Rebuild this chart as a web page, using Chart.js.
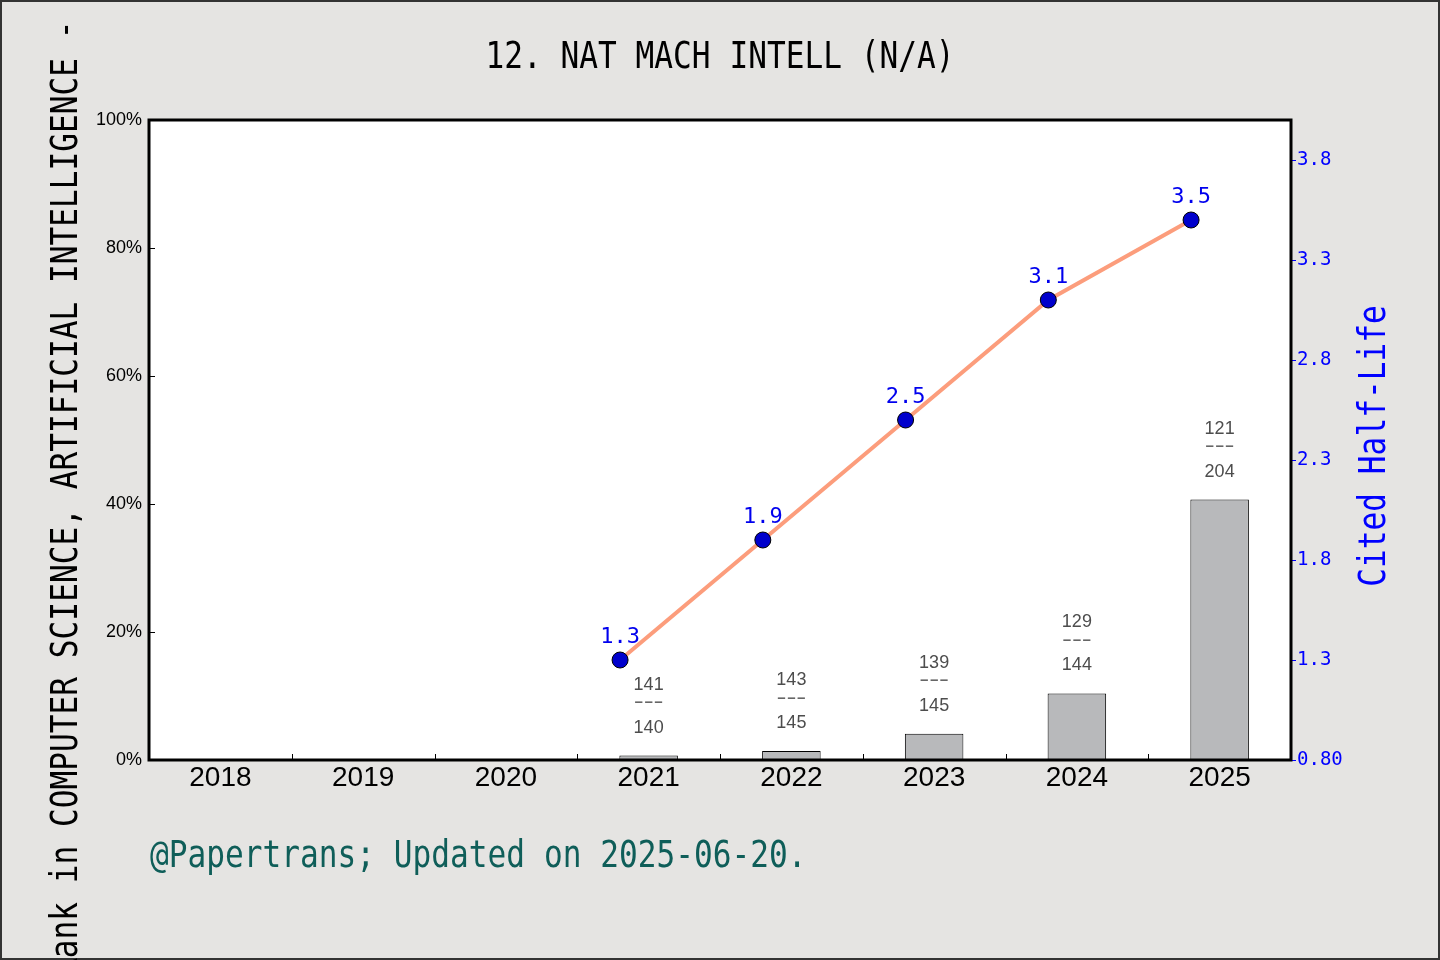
<!DOCTYPE html>
<html>
<head>
<meta charset="utf-8">
<title>12. NAT MACH INTELL (N/A)</title>
<script src="https://cdn.jsdelivr.net/npm/chart.js@4.4.1/dist/chart.umd.min.js"></script>
<style>
  html, body { margin: 0; padding: 0; background: #e5e4e2; overflow: hidden; }
  canvas { display: block; }
</style>
</head>
<body>
<canvas id="chart" width="1440" height="960"></canvas>
<script>
// data
const years = ['2018', '2019', '2020', '2021', '2022', '2023', '2024', '2025'];
const rankPct = [null, null, null, 0.7, 1.4, 4.1, 10.4, 40.7];
const ranks = [null, null, null, 141, 143, 139, 129, 121];
const totals = [null, null, null, 140, 145, 145, 144, 204];
const halfLife = [null, null, null, 1.3, 1.9, 2.5, 3.1, 3.5];
const leftTicks = [0, 20, 40, 60, 80, 100];
const rightTicks = [0.8, 1.3, 1.8, 2.3, 2.8, 3.3, 3.8];
const rightTickLabels = ['0.80', '1.3', '1.8', '2.3', '2.8', '3.3', '3.8'];

const titleText = '12. NAT MACH INTELL (N/A)';
const leftTitle = 'Rank in COMPUTER SCIENCE, ARTIFICIAL INTELLIGENCE -';
const rightTitle = 'Cited Half-Life';
const footerText = '@Papertrans; Updated on 2025-06-20.';

const MONO = '"DejaVu Sans Mono", "Liberation Mono", monospace';
const SANS = '"Liberation Sans", Arial, sans-serif';
const lineShift = -0.2; // line points sit a little left of the bar centres

const lineData = [];
halfLife.forEach((v, i) => { if (v !== null) lineData.push({ x: i + lineShift, y: v }); });

function narrowText(ctx, text, x, y, rot, align, color) {
  ctx.save();
  ctx.translate(x, y);
  ctx.rotate(rot);
  ctx.scale(0.842, 1);
  ctx.font = '37px ' + MONO;
  ctx.fillStyle = color;
  ctx.textAlign = align;
  ctx.textBaseline = 'alphabetic';
  ctx.fillText(text, 0, 0);
  ctx.restore();
}

const decor = {
  id: 'decor',
  beforeDraw(chart) {
    const { ctx, chartArea: a } = chart;
    ctx.save();
    ctx.fillStyle = '#e5e4e2';
    ctx.fillRect(0, 0, chart.width, chart.height);
    ctx.fillStyle = '#ffffff';
    ctx.fillRect(a.left, a.top, a.right - a.left, a.bottom - a.top);
    ctx.restore();
  },
  afterDraw(chart) {
    const { ctx, chartArea: a } = chart;
    const x = chart.scales.x, y = chart.scales.y;
    ctx.save();
    // inward ticks
    ctx.strokeStyle = '#000';
    ctx.lineWidth = 1;
    leftTicks.forEach(t => {
      const py = Math.round(y.getPixelForValue(t)) + 0.5;
      ctx.beginPath(); ctx.moveTo(a.left, py); ctx.lineTo(a.left + 6, py); ctx.stroke();
    });
    for (let i = 1; i < years.length; i++) {
      const px = Math.round((x.getPixelForValue(i - 1) + x.getPixelForValue(i)) / 2) + 0.5;
      ctx.beginPath(); ctx.moveTo(px, a.bottom); ctx.lineTo(px, a.bottom - 6); ctx.stroke();
    }
    // plot frame
    ctx.lineWidth = 3;
    ctx.strokeRect(a.left, a.top, a.right - a.left, a.bottom - a.top);
    // page frame
    ctx.lineWidth = 2;
    ctx.strokeStyle = '#333';
    ctx.strokeRect(1, 1, chart.width - 2, chart.height - 2);

    // bar labels  rank / --- / total
    const barMeta = chart.getDatasetMeta(0);
    ctx.fillStyle = '#4d4d4d';
    ctx.textAlign = 'center';
    barMeta.data.forEach((bar, i) => {
      if (ranks[i] === null) return;
      ctx.textBaseline = 'alphabetic';
      ctx.font = '18px ' + SANS;
      ctx.fillText(String(ranks[i]), bar.x, bar.y - 66);
      ctx.fillText(String(totals[i]), bar.x, bar.y - 23);
      ctx.save();
      ctx.translate(bar.x, bar.y - 53);
      ctx.scale(1.5, 1);
      ctx.font = '20px ' + SANS;
      ctx.fillStyle = '#666';
      ctx.textBaseline = 'middle';
      ctx.fillText('---', 0, 0);
      ctx.restore();
    });

    // line point labels
    const lineMeta = chart.getDatasetMeta(1);
    ctx.fillStyle = '#0000ee';
    ctx.font = '22px ' + MONO;
    ctx.textBaseline = 'alphabetic';
    lineMeta.data.forEach((pt, i) => {
      ctx.fillText(lineData[i].y.toFixed(1), pt.x, pt.y - 17);
    });

    // titles and footer
    narrowText(ctx, titleText, 720, 68, 0, 'center', '#000');
    narrowText(ctx, leftTitle, 77, 977, -Math.PI / 2, 'left', '#000');
    narrowText(ctx, rightTitle, 1385, 446, -Math.PI / 2, 'center', '#0000ff');
    narrowText(ctx, footerText, 150, 867, 0, 'left', '#0f5e59');
    ctx.restore();
  }
};

new Chart(document.getElementById('chart'), {
  data: {
    labels: years,
    datasets: [
      {
        type: 'bar',
        data: rankPct,
        backgroundColor: '#b8b9bb',
        borderColor: '#000',
        borderWidth: 1,
        grouped: false,
        barPercentage: 0.41,
        categoryPercentage: 1,
        xAxisID: 'x',
        yAxisID: 'y',
        order: 1
      },
      {
        type: 'line',
        data: lineData,
        borderColor: '#fc9d7c',
        borderWidth: 4,
        pointRadius: 8,
        pointBackgroundColor: '#0000cc',
        pointBorderColor: '#000',
        pointBorderWidth: 1,
        xAxisID: 'xl',
        yAxisID: 'y1',
        order: 0
      }
    ]
  },
  options: {
    responsive: false,
    animation: false,
    devicePixelRatio: 1,
    layout: { padding: { left: 0, right: 0, top: 120, bottom: 0 } },
    plugins: { legend: { display: false }, tooltip: { enabled: false } },
    scales: {
      x: {
        type: 'category',
        offset: true,
        grid: { display: false, drawTicks: false },
        border: { display: false },
        ticks: { color: '#000', font: { family: SANS, size: 28 }, padding: 1, maxRotation: 0, autoSkip: false },
        afterFit(s) { s.height = 200; }
      },
      xl: {
        type: 'linear',
        display: false,
        min: -0.5,
        max: years.length - 0.5
      },
      y: {
        position: 'left',
        min: 0,
        max: 100,
        grid: { display: false, drawTicks: false },
        border: { display: false },
        afterBuildTicks(s) { s.ticks = leftTicks.map(v => ({ value: v })); },
        ticks: { color: '#000', font: { family: SANS, size: 18 }, padding: 7, callback: v => v + '%' },
        afterFit(s) { s.width = 149; }
      },
      y1: {
        position: 'right',
        min: 0.8,
        max: 4.0,
        grid: { drawOnChartArea: false, drawTicks: true, tickLength: 5, color: '#0000ff' },
        border: { display: false },
        afterBuildTicks(s) { s.ticks = rightTicks.map(v => ({ value: v })); },
        ticks: {
          color: '#0000ff',
          font: { family: MONO, size: 19 },
          padding: 1,
          callback: (v) => rightTickLabels[rightTicks.indexOf(v)]
        },
        afterFit(s) { s.width = 149; }
      }
    }
  },
  plugins: [decor]
});
</script>
</body>
</html>
